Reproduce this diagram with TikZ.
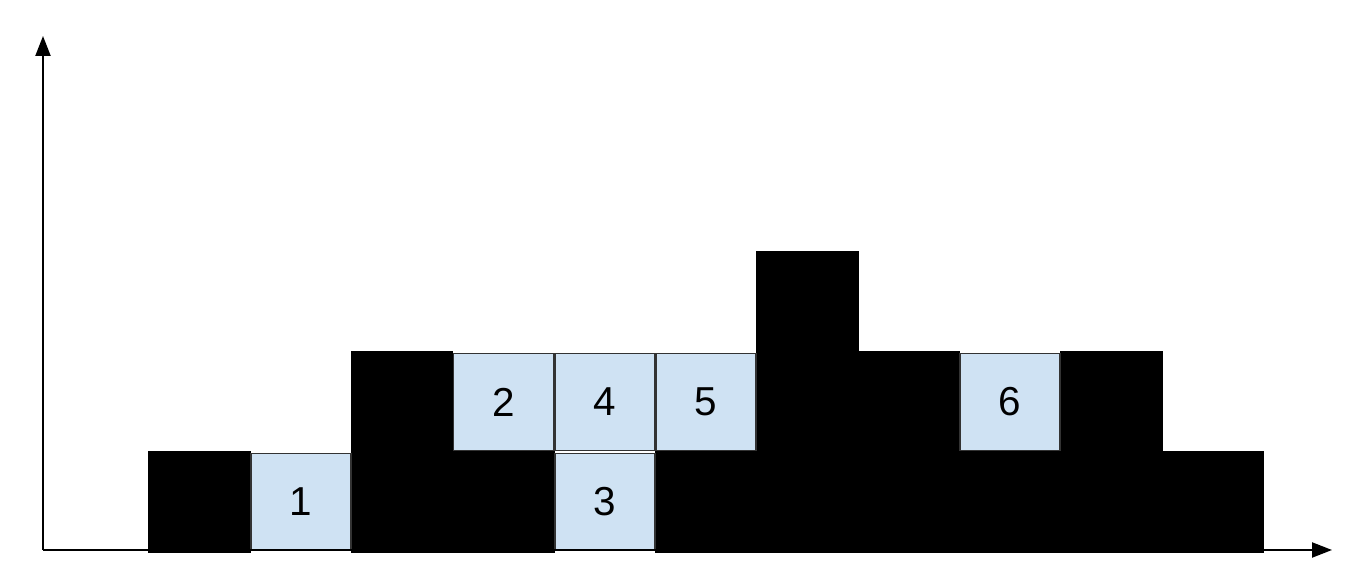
\documentclass[tikz,border=0pt]{standalone}
\usepackage{fontspec}
\setmainfont{Liberation Sans}
\usetikzlibrary{arrows.meta}
\definecolor{waterblue}{HTML}{CFE2F3}

\begin{document}
\begin{tikzpicture}[> = {Triangle[length=0.2cm, width=0.15cm]}, x = 1.013cm, y = 1cm,
    wall/.style = {fill = black, draw = black, line width = 0.3pt},
    water/.style = {fill = waterblue, draw = black!80, line width = 0.5pt, inner sep = 0pt,
      minimum width = 1.0cm, minimum height = 0.97cm, font = \fontsize{11.5}{14}\selectfont}]
          \useasboundingbox (0cm,0cm) rectangle (13.58cm,5.81cm);
          \coordinate (origin) at (0.43cm,0.31cm);
          \coordinate (ytip) at (0.43cm,5.45cm);
          \coordinate (xtip) at (13.32cm,0.31cm);
          \begin{scope}[shift = {(1.49cm,0.29cm)}]
              % walls: heights 1,0,2,1,0,1,3,2,1,2,1
              \foreach \col/\hgt in {0/1,2/2,3/1,5/1,6/3,7/2,8/1,9/2,10/1}
                  \foreach \row in {1,...,\hgt}
                      \filldraw[wall] (\col,\row-1) rectangle ++(1,1);
              % trapped water
              \foreach \lbl/\col/\row in {1/1/0,2/3/1,3/4/0,4/4/1,5/5/1,6/8/1}
                  \node[water] (w\lbl) at (\col+0.5,\row+0.5) {\lbl};
          \end{scope}
          \draw[->, line width = 0.6pt] (origin) -- (xtip);
          \draw[->, line width = 0.6pt] (origin) -- (ytip);
        \end{tikzpicture}
\end{document}
